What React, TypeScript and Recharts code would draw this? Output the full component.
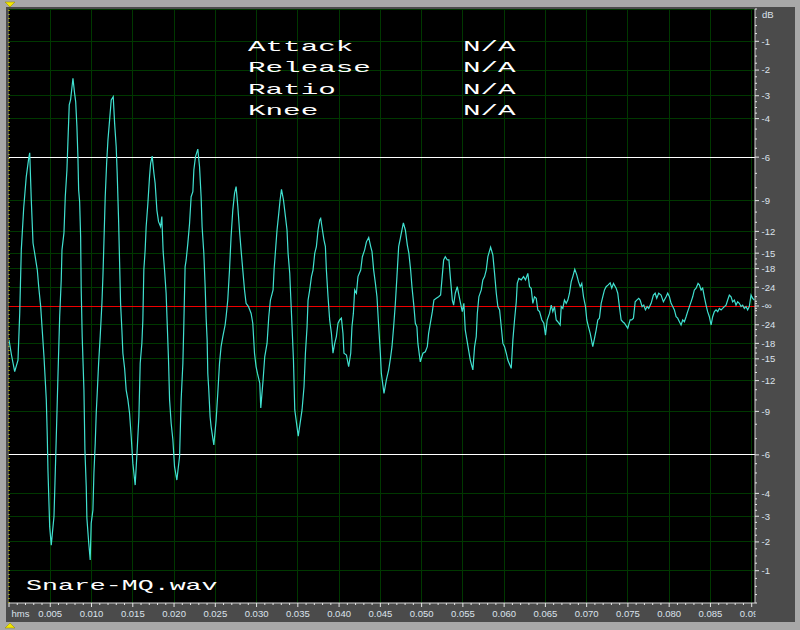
import React from "react";
import {
  LineChart,
  Line,
  XAxis,
  YAxis,
  CartesianGrid,
  ReferenceLine,
} from "recharts";

// Time of each traced point, in milliseconds
const timeMs = [
  0, 0.3, 0.69, 1.09, 1.3, 1.49, 1.78, 2.09, 2.39, 2.51,
  2.7, 2.91, 3.11, 3.43, 3.6, 3.84, 4.0, 4.24, 4.52, 4.64,
  4.72, 4.93, 5.12, 5.45, 5.57, 5.73, 5.93, 6.14, 6.33, 6.42,
  6.66, 6.82, 7.02, 7.14, 7.3, 7.47, 7.75, 7.95, 8.08, 8.23,
  8.35, 8.44, 8.56, 8.68, 8.75, 8.87, 9.08, 9.2, 9.36, 9.44,
  9.65, 9.84, 9.96, 10.17, 10.29, 10.45, 10.57, 10.69, 10.86, 11.05,
  11.26, 11.38, 11.5, 11.66, 11.83, 11.99, 12.19, 12.39, 12.63, 12.8,
  12.99, 13.11, 13.28, 13.4, 13.52, 13.68, 13.8, 14.01, 14.2, 14.41,
  14.61, 14.81, 15.01, 15.29, 15.53, 15.74, 15.9, 16.1, 16.22, 16.34,
  16.5, 16.62, 16.83, 17.03, 17.16, 17.35, 17.56, 17.71, 17.92, 18.12,
  18.37, 18.52, 18.68, 18.85, 19.04, 19.17, 19.33, 19.46, 19.65, 19.86,
  20.06, 20.34, 20.67, 20.86, 21.07, 21.19, 21.34, 21.47, 21.67, 21.88,
  22.07, 22.28, 22.4, 22.6, 22.88, 23.09, 23.28, 23.4, 23.61, 23.77,
  23.89, 24.01, 24.09, 24.21, 24.37, 24.49, 24.82, 25.1, 25.3, 25.51,
  25.7, 25.91, 26.19, 26.31, 26.51, 26.72, 26.91, 27.12, 27.33, 27.52,
  27.73, 27.93, 28.12, 28.33, 28.54, 28.73, 29.02, 29.34, 29.54, 29.75,
  29.94, 30.11, 30.39, 30.51, 30.79, 30.99, 31.27, 31.48, 31.68, 32.0,
  32.12, 32.33, 32.48, 32.69, 32.85, 33.02, 33.26, 33.5, 33.69, 33.82,
  34.02, 34.14, 34.3, 34.47, 34.63, 35.05, 35.51, 35.75, 35.92, 36.12,
  36.24, 36.44, 36.65, 36.84, 37.05, 37.25, 37.45, 37.65, 37.77, 37.98,
  38.17, 38.34, 38.46, 38.66, 38.86, 39.07, 39.26, 39.47, 39.67, 39.87,
  40.07, 40.28, 40.47, 40.59, 40.89, 41.16, 41.41, 41.56, 41.73, 41.89,
  42.1, 42.29, 42.62, 42.82, 43.1, 43.31, 43.59, 43.83, 43.99, 44.19,
  44.4, 44.59, 44.8, 45.0, 45.12, 45.44, 45.73, 46.01, 46.25, 46.41,
  46.61, 46.82, 47.01, 47.22, 47.42, 47.62, 47.79, 48.03, 48.27, 48.46,
  48.67, 48.83, 49.07, 49.24, 49.43, 49.55, 49.84, 50.16, 50.45, 50.69,
  50.85, 51.06, 51.3, 51.49, 51.78, 52.06, 52.3, 52.46, 52.67, 52.87,
  53.11, 53.31, 53.51, 53.72, 53.88, 54.08, 54.32, 54.52, 54.72, 54.93,
  55.12, 55.29, 55.49, 55.69, 55.9, 56.21, 56.42, 56.62, 56.75, 56.94,
  57.23, 57.42, 57.63, 57.83, 58.03, 58.36, 58.63, 58.84, 59.05, 59.24,
  59.45, 59.65, 59.85, 60.05, 60.26, 60.45, 60.86, 61.06, 61.26, 61.47,
  61.59, 61.78, 62.07, 62.35, 62.59, 62.87, 63.08, 63.28, 63.48, 63.68,
  63.89, 64.08, 64.29, 64.57, 64.81, 65.01, 65.22, 65.5, 65.71, 65.9,
  66.1, 66.31, 66.5, 66.79, 66.92, 67.11, 67.31, 67.52, 67.72, 67.92,
  68.13, 68.32, 68.56, 68.81, 69.01, 69.22, 69.41, 69.62, 69.86, 70.02,
  70.22, 70.43, 70.74, 70.95, 71.15, 71.35, 71.55, 71.76, 71.95, 72.16,
  72.36, 72.61, 72.85, 73.04, 73.25, 73.57, 73.77, 73.97, 74.18, 74.37,
  74.58, 74.98, 75.27, 75.46, 75.67, 75.88, 76.07, 76.31, 76.48, 76.72,
  76.92, 77.12, 77.33, 77.52, 77.81, 78.09, 78.3, 78.49, 78.73, 79.02,
  79.3, 79.63, 79.82, 80.03, 80.23, 80.43, 80.63, 80.84, 81.03, 81.24,
  81.44, 81.64, 81.84, 82.05, 82.24, 82.45, 82.65, 82.85, 83.05, 83.26,
  83.5, 83.66, 83.87, 84.06, 84.26, 84.47, 84.66, 84.87, 85.08, 85.27,
  85.48, 85.68, 85.88, 86.08, 86.29, 86.48, 86.69, 86.89, 87.09, 87.29,
  87.5, 87.69, 87.9, 88.1, 88.3, 88.5, 88.71, 88.9, 89.11, 89.31,
  89.51, 89.71, 89.92, 90.11, 90.32,
];

// Sample amplitude, % of full scale
const amplitude = [
  -11.4, -16.5, -22.1, -18.2, -2.4, 18.9, 33.0, 43.5, 49.8, 51.6,
  35.7, 21.2, 17.8, 12.1, 6.5, -0.2, -7.0, -17.1, -31.6, -44.0,
  -55.2, -74.3, -80.5, -70.9, -59.6, -44.0, -23.8, -3.6, 8.8, 18.9,
  24.6, 36.8, 45.8, 55.3, 67.7, 69.6, 76.7, 71.6, 68.8, 60.4,
  50.3, 39.1, 35.1, 23.3, 5.4, -10.3, -28.3, -48.5, -60.8, -71.5,
  -79.4, -85.5, -73.2, -68.7, -56.3, -46.2, -36.1, -29.4, -19.3, -10.3,
  0.9, 9.9, 21.1, 36.8, 48.0, 55.9, 62.6, 69.4, 70.5, 61.5,
  53.6, 44.7, 29.0, 14.9, 0.9, -8.1, -15.9, -21.0, -28.3, -31.6,
  -36.1, -44.0, -53.0, -60.3, -48.5, -37.3, -19.3, -12.6, -4.7, 12.1,
  18.9, 26.7, 34.6, 43.5, 48.0, 50.5, 44.7, 41.3, 32.3, 28.4,
  26.7, 30.1, 18.3, 12.1, 4.3, -5.8, -18.2, -31.6, -39.5, -45.1,
  -54.1, -58.6, -50.7, -31.6, -19.3, -5.8, 13.2, 15.5, 21.1, 27.8,
  36.8, 38.5, 45.8, 50.3, 52.8, 46.9, 36.8, 26.7, 17.7, 6.5,
  -4.1, -11.4, -22.7, -28.3, -37.3, -40.6, -46.8, -38.4, -29.4, -19.3,
  -13.7, -10.3, -6.4, -3.6, 2.0, 12.1, 23.3, 32.3, 37.9, 40.2,
  33.4, 25.6, 18.9, 12.1, 5.4, 0.9, -0.2, -2.5, -5.8, -15.9,
  -20.4, -22.7, -26.0, -34.3, -24.9, -17.1, -12.6, -3.6, 2.0, 5.4,
  12.1, 20.0, 25.6, 31.2, 35.7, 39.3, 35.7, 30.1, 25.6, 17.7,
  11.0, 3.1, -7.0, -18.2, -35.0, -43.8, -35.0, -27.2, -15.9, -7.0,
  2.0, 5.4, 9.9, 12.1, 17.7, 20.0, 25.6, 29.0, 29.5, 25.6,
  22.2, 20.0, 12.1, 3.1, -4.7, -9.2, -15.9, -12.6, -10.3, -5.8,
  -4.7, -4.1, -9.2, -15.9, -16.5, -20.4, -15.9, -7.0, -2.5, 5.4,
  4.3, 9.9, 12.1, 16.6, 18.9, 21.6, 23.1, 20.0, 18.3, 12.1,
  7.6, 3.1, -7.0, -15.9, -22.7, -29.4, -24.9, -21.5, -17.1, -13.7,
  -7.0, 0.9, 9.9, 20.0, 22.8, 25.6, 28.0, 25.6, 20.5, 17.7,
  12.1, 6.5, -0.2, -5.8, -7.0, -12.6, -18.8, -15.9, -15.4, -13.7,
  -9.2, -5.8, -1.9, 2.0, 2.6, 3.1, 3.7, 8.8, 15.5, 16.6,
  15.5, 15.5, 8.8, 2.0, 0.3, 4.3, 6.5, 3.7, 0.9, -1.9,
  0.9, -8.1, -11.4, -14.8, -18.2, -21.5, -13.7, -10.3, -2.5, 3.1,
  5.4, 8.8, 9.9, 12.1, 16.6, 19.8, 17.2, 11.0, 4.3, -0.2,
  -1.3, -7.0, -12.6, -13.7, -15.9, -18.2, -21.0, -11.4, -4.7, 1.4,
  7.6, 9.3, 8.8, 9.9, 8.8, 11.0, 6.5, 6.0, 0.9, 3.1,
  2.6, -1.3, -1.9, -4.7, -5.8, -9.8, -4.7, -2.5, 0.3, -1.9,
  -0.2, -4.7, -5.3, -6.4, -0.2, -0.8, 2.0, 0.9, 2.0, 4.3,
  8.2, 9.9, 12.4, 10.4, 8.2, 6.5, 7.6, 3.1, -0.2, -4.7,
  -7.0, -9.2, -13.7, -10.9, -8.1, -4.7, -4.1, 0.9, 3.1, 5.4,
  6.5, 7.1, 7.8, 6.0, 7.6, 6.0, 4.3, -0.2, -4.7, -5.3,
  -5.8, -7.5, -4.7, -4.7, -4.1, 1.4, 2.0, 2.6, 2.0, -0.2,
  0.3, -1.3, -0.2, -0.8, 0.9, 3.7, 4.3, 2.6, 4.3, 3.7,
  1.4, 3.1, 4.3, 3.1, 0.9, -0.2, -1.3, -3.6, -4.1, -5.3,
  -6.4, -4.7, -5.3, -3.6, -1.9, -0.2, 1.4, 3.1, 5.4, 6.0,
  7.6, 7.1, 5.4, 6.0, 3.1, 0.3, -1.9, -3.6, -6.4, -3.6,
  -1.9, -1.3, -1.9, -0.8, -1.3, -0.8, -0.2, 0.3, 2.0, 3.7,
  3.1, 1.4, 2.0, 0.3, 1.4, 0.9, -0.2, 0.3, -0.8, -0.2,
  -1.3, -0.2, 3.7, 2.6, 2.0,
];

// time axis: labelled ticks every 5 ms, small ticks every 1 ms
const xMajorTicks = [5, 10, 15, 20, 25, 30, 35, 40, 45, 50, 55, 60, 65, 70, 75, 80, 85, 90];
const xAllTicks = Array.from({ length: 91 }, (_, i) => i);

// dB scale on the right (mirrored above/below the centre line)
const dbMajor = [-1, -2, -3, -4, -6, -9, -12, -15, -18, -24];
const dbMinor = [
  -0.25, -0.5, -0.75, -1.25, -1.5, -1.75, -2.25, -2.5, -2.75, -3.25, -3.5, -3.75,
  -4.5, -5, -5.5, -7, -8, -10, -11, -13, -14, -16, -17, -20, -22, -30, -36, -42,
];
const dbWhiteLines = [-6];

const overlayLabels = ["Attack", "Release", "Ratio", "Knee"];
const overlayValues = ["N/A", "N/A", "N/A", "N/A"];
const fileName = "Snare-MQ.wav";

const data = timeMs.map((t, i) => ({ t, a: amplitude[i] }));

const dbToPct = (db: number) => 100 * Math.pow(10, db / 20);
const key = (v: number) => v.toFixed(4);

const yLabels = new Map<string, string>();
dbMajor.forEach((db) => {
  yLabels.set(key(dbToPct(db)), String(db));
  yLabels.set(key(-dbToPct(db)), String(db));
});
yLabels.set(key(0), "-\u221e");

const yTicks = [
  100,
  ...dbMajor.map(dbToPct),
  ...dbMinor.map(dbToPct),
  0,
  ...dbMinor.map((d) => -dbToPct(d)),
  ...dbMajor.map((d) => -dbToPct(d)),
  -100,
].sort((a, b) => b - a);

const gridY = [100, ...dbMajor.map(dbToPct), ...dbMajor.map((d) => -dbToPct(d))];

const LABEL_COLOR = "#dbe2ec";
const TICK_COLOR = "#e6e6e6";
const PLOT_RIGHT = 755.5;
const LABEL_FONT = 9.5;

const XTick = (props: any) => {
  const { x, y, payload } = props;
  const v = payload.value;
  const major = v % 5 === 0;
  return (
    <g>
      <line x1={x} x2={x} y1={y} y2={y + (major ? 4 : 2)} stroke={TICK_COLOR} />
      {v === 0 ? (
        <text x={x + 2.5} y={y + 14} fill={LABEL_COLOR} fontSize={LABEL_FONT} fontFamily="Liberation Sans" textAnchor="start">
          hms
        </text>
      ) : major ? (
        <text
          x={x}
          y={y + 14}
          fill={LABEL_COLOR}
          fontSize={LABEL_FONT}
          fontFamily="Liberation Sans"
          textAnchor="middle"
          clipPath="url(#xlabel-clip)"
        >
          {(v / 1000).toFixed(3)}
        </text>
      ) : null}
    </g>
  );
};

const YTick = (props: any) => {
  const { x, y, payload } = props;
  const v = payload.value;
  if (v === 100) {
    return (
      <g>
        <line x1={x} x2={x + 2} y1={y} y2={y} stroke={TICK_COLOR} />
        <text x={x + 7} y={y + 9} fill={LABEL_COLOR} fontSize={LABEL_FONT} fontFamily="Liberation Sans">
          dB
        </text>
      </g>
    );
  }
  const label = yLabels.get(key(v));
  if (label === undefined) {
    return <line x1={x} x2={x + 2} y1={y} y2={y} stroke={TICK_COLOR} />;
  }
  return (
    <g>
      <line x1={x} x2={x + 4} y1={y} y2={y} stroke={TICK_COLOR} />
      <text x={x + 6.5} y={y + 3.4} fill={LABEL_COLOR} fontSize={LABEL_FONT} fontFamily="Liberation Sans">
        {label}
      </text>
    </g>
  );
};

export default function App() {
  return (
    <div
      style={{
        position: "fixed",
        left: 0,
        top: 0,
        width: 800,
        height: 630,
        background: "#a8a8a8",
        overflow: "hidden",
      }}
    >
      <svg width={0} height={0} style={{ position: "absolute" }}>
        <defs>
          <clipPath id="xlabel-clip" clipPathUnits="userSpaceOnUse">
            <rect x={0} y={0} width={PLOT_RIGHT} height={630} />
          </clipPath>
        </defs>
      </svg>
      {/* dark frame behind the axes */}
      <div style={{ position: "absolute", left: 6, top: 7, width: 789, height: 615, background: "#4b4b4b" }} />
      <div style={{ position: "absolute", left: 0, top: 0 }}>
        <LineChart width={800} height={630} data={data} margin={{ top: 9, right: 5, bottom: 8, left: 9 }}>
          <CartesianGrid
            fill="#000000"
            stroke="#003800"
            strokeDasharray=""
            shapeRendering="crispEdges"
            horizontalValues={gridY}
            verticalValues={xMajorTicks}
          />
          <XAxis
            dataKey="t"
            type="number"
            domain={[0, 90.4]}
            allowDataOverflow
            ticks={xAllTicks}
            interval={0}
            height={19}
            tickSize={0}
            tickMargin={0}
            tickLine={false}
            axisLine={{ stroke: "#d4d4d4" }}
            tick={<XTick />}
          />
          <YAxis
            orientation="right"
            type="number"
            domain={[-100, 100]}
            allowDataOverflow
            ticks={yTicks}
            interval={0}
            width={40}
            tickSize={0}
            tickMargin={0}
            tickLine={false}
            axisLine={{ stroke: "#d4d4d4" }}
            tick={<YTick />}
          />
          <ReferenceLine x={0} stroke="#ffff00" strokeDasharray="1 3" />
          {dbWhiteLines.map((db) => (
            <ReferenceLine key={`w+${db}`} y={dbToPct(db)} stroke="#ffffff" shapeRendering="crispEdges" />
          ))}
          {dbWhiteLines.map((db) => (
            <ReferenceLine key={`w-${db}`} y={-dbToPct(db)} stroke="#ffffff" shapeRendering="crispEdges" />
          ))}
          <ReferenceLine y={0} stroke="#ee0000" shapeRendering="crispEdges" />
          <Line
            type="linear"
            dataKey="a"
            stroke="#40e0d0"
            strokeWidth={1.2}
            dot={false}
            isAnimationActive={false}
          />
        </LineChart>
      </div>
      <svg
        width={800}
        height={630}
        style={{ position: "absolute", left: 0, top: 0, pointerEvents: "none" }}
      >
        <polygon points="5,2 15,2 10,7" fill="#f2e600" stroke="#8c8400" strokeWidth={0.5} />
        <polygon points="5,628 15,628 10,623" fill="#f2e600" stroke="#8c8400" strokeWidth={0.5} />
        {overlayLabels.map((label, i) => (
          <g key={label}>
            <text
              transform={`translate(248, ${51 + i * 21.3}) scale(1.95, 1)`}
              fontFamily="Liberation Mono"
              fontSize={15}
              fill="#ffffff"
            >
              {label}
            </text>
            <text
              transform={`translate(463, ${51 + i * 21.3}) scale(1.95, 1)`}
              fontFamily="Liberation Mono"
              fontSize={15}
              fill="#ffffff"
            >
              {overlayValues[i]}
            </text>
          </g>
        ))}
        <text
          transform="translate(26, 590) scale(1.9, 1)"
          fontFamily="Liberation Mono"
          fontSize={14}
          fill="#ffffff"
        >
          {fileName}
        </text>
      </svg>
    </div>
  );
}
